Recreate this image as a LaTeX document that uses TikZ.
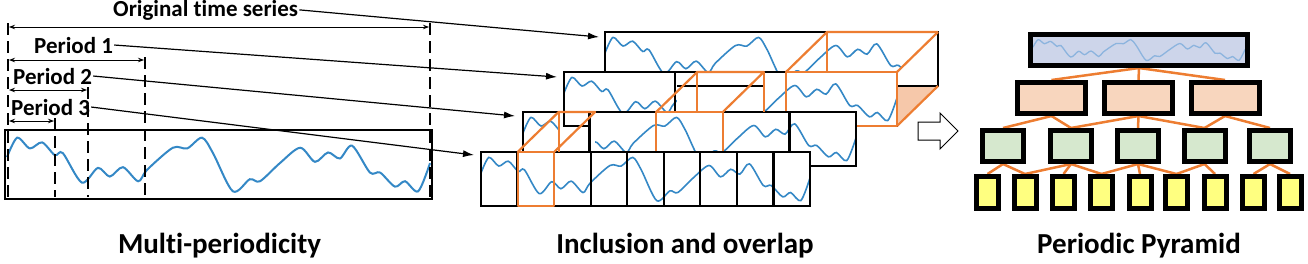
\documentclass[tikz,border=0pt]{standalone}
\usepackage{fontspec}
\setmainfont{Carlito}[Ligatures={NoCommon}]
\usetikzlibrary{arrows.meta}
\pgfdeclarelayer{background}
\pgfsetlayers{background,main}
\definecolor{wavec}{RGB}{52,136,198}
\definecolor{wavelight}{RGB}{140,180,222}
\definecolor{orng}{RGB}{237,125,49}
\definecolor{peach}{RGB}{246,200,170}
\definecolor{topc}{RGB}{205,213,234}
\definecolor{lvltwo}{RGB}{248,214,190}
\definecolor{lvlthree}{RGB}{214,232,206}
\definecolor{lvlfour}{RGB}{255,255,128}
\newcommand{\tswave}[1]{\draw[#1] plot[smooth,tension=0.5] coordinates {(0,0.39) (0.024,0.10) (0.054,0.26) (0.083,0.17) (0.113,0.36) (0.132,0.33) (0.177,0.77) (0.215,0.55) (0.243,0.68) (0.274,0.54) (0.310,0.75) (0.331,0.58) (0.392,0.25) (0.426,0.26) (0.461,0.10) (0.487,0.33) (0.534,0.90) (0.574,0.72) (0.598,0.75) (0.645,0.48) (0.693,0.25) (0.728,0.46) (0.759,0.32) (0.787,0.41) (0.816,0.22) (0.858,0.62) (0.882,0.62) (0.917,0.83) (0.941,0.75) (0.972,0.90) (1.0,0.48)};}
\newcommand{\tsbox}[4]{%
  \fill[white] (#1,#2) rectangle ++(#3,#4);
  \begin{scope}
    \clip (#1,#2) rectangle ++(#3,#4);
    \begin{scope}[shift={(#1,#2)},x=#3pt,y=-#4pt]
      \tswave{wavec,line width=1.6pt}
    \end{scope}
  \end{scope}
  \draw[boxline] (#1,#2) rectangle ++(#3,#4);
}
\tikzset{
  boxline/.style={line width=2.2pt,black},
  oline/.style={line width=2.2pt,orng,line join=round},
  dashline/.style={line width=2pt,dash pattern=on 12pt off 6pt},
  dimarrow/.style={line width=0.9pt,{Stealth[length=6pt,width=4.5pt]}-{Stealth[length=6pt,width=4.5pt]}},
  lblarrow/.style={line width=1.2pt,-{Latex[length=11pt,width=7pt]}},
  lbl/.style={font=\fontsize{23}{23}\selectfont\bfseries,inner sep=1pt},
  title/.style={font=\fontsize{29}{31}\selectfont\bfseries,inner sep=0pt},
  pbox/.style={draw=black,line width=5pt,inner sep=0pt},
  conn/.style={orng,line width=2.5pt}
}
\begin{document}
\begin{tikzpicture}[x=1pt,y=-1pt]
\useasboundingbox (0,0) rectangle (1308,263);

% ---------- left panel ----------
\fill[white] (5,130) rectangle (432,199);
\begin{scope}
  \clip (5,130) rectangle (432,199);
  \begin{scope}[shift={(7,131)},x=423pt,y=-67pt]
    \tswave{wavec,line width=2pt}
  \end{scope}
\end{scope}
\draw[line width=2.8pt] (5,130) rectangle (432,199);
\draw[dashline] (8,23) -- (8,197);
\draw[dashline] (430,23) -- (430,197);
\draw[dashline] (145,57) -- (145,197);
\draw[dashline] (88,87) -- (88,197);
\draw[dashline] (55,118) -- (55,197);
\coordinate (a0l) at (9,27);  \coordinate (a0r) at (429,27);
\coordinate (a1l) at (9,60);  \coordinate (a1r) at (144,60);
\coordinate (a2l) at (9,90);  \coordinate (a2r) at (87,90);
\coordinate (a3l) at (9,121); \coordinate (a3r) at (54,121);
\draw[dimarrow] (a0l) -- (a0r);
\draw[dimarrow] (a1l) -- (a1r);
\draw[dimarrow] (a2l) -- (a2r);
\draw[dimarrow] (a3l) -- (a3r);

% ---------- middle panel ----------
% layer 0
\tsbox{605}{32}{333}{54}
% layer 1
\tsbox{564}{72}{333}{54}
\foreach \k in {1,2} \draw[boxline] ({564+\k*111},72) -- ++(0,54);
% cuboid 1 -> 0
\fill[white] (897,72) -- (938,32) -- (938,86) -- (897,126) -- cycle;
\fill[peach] (897,86) -- (938,86) -- (897,126) -- cycle;
\draw[boxline] (897,86) -- (938,86);
\draw[boxline] (938,32) -- (938,86);
\draw[oline] (786,72) -- (827,32) -- (938,32);
\draw[oline] (897,72) -- (938,32);
\draw[oline] (827,32) -- (827,72);
\draw[oline] (897,126) -- (938,86);
\draw[oline] (786,72) rectangle (897,126);
% layer 2
\tsbox{523}{112}{333}{54}
\foreach \k in {1,...,4} \draw[boxline] ({523+\k*66.6},112) -- ++(0,54);
% cuboid 2 -> 1
\fill[white] (676.5,73) rectangle (763.8,111);
\draw[line width=2.5pt] (677,86) -- (763.8,86);
\draw[oline] (656.2,112) -- (697.2,72) -- (763.8,72) -- (722.8,112);
\draw[oline] (697.2,72) -- (697.2,112);
\draw[oline] (763.8,72) -- (763.8,112);
\draw[oline] (656.2,112) rectangle (722.8,166);
% layer 3
\tsbox{481}{152}{329}{54}
\foreach \k in {1,...,8} \draw[boxline] ({481+\k*36.56},152) -- ++(0,54);
% cuboid 3 -> 2
\fill[white] (558.6,113) rectangle (595.1,151);
\draw[boxline] (564,113) -- (564,126) -- (589.6,126);
\draw[line width=2.5pt] (589.6,112) -- (589.6,152);
\draw[oline] (517.6,152) -- (558.6,112) -- (595.1,112) -- (554.1,152);
\draw[oline] (558.6,112) -- (558.6,152);
\draw[oline] (517.6,152) rectangle (554.1,206);

% ---------- labels with arrows ----------
\node[lbl,anchor=base west] (orig) at (112,16) {Original time series};
\node[lbl,anchor=base west] (per1) at (33,53) {Period 1};
\node[lbl,anchor=base west] (per2) at (12,84) {Period 2};
\node[lbl,anchor=base west] (per3) at (10,115) {Period 3};
\coordinate (t0) at (599,37);
\coordinate (t1) at (557,77);
\coordinate (t2) at (515,116);
\coordinate (t3) at (474,155);
\draw[lblarrow] (orig.east) -- (t0);
\draw[lblarrow] (per1.east) -- (t1);
\draw[lblarrow] (per2.east) -- (t2);
\draw[lblarrow] (per3.east) -- (t3);

% ---------- hollow arrow ----------
\draw[line width=1pt,fill=white] (918,122) -- (940,122) -- (940,113) -- (958,131) -- (940,149) -- (940,140) -- (918,140) -- cycle;

% ---------- pyramid ----------
\node[pbox,fill=topc,minimum width=217pt,minimum height=31pt] (top) at (1139,50) {};
\begin{scope}
  \clip (1033,37) rectangle (1245,63);
  \begin{scope}[shift={(1033,37)},x=212pt,y=-26pt]
    \tswave{wavelight,line width=1.3pt}
  \end{scope}
\end{scope}
\draw[line width=5pt] (1030.5,34.5) rectangle (1247.5,65.5);
\foreach \n/\x in {1/1051.5,2/1138.5,3/1225}
  \node[pbox,fill=lvltwo,minimum width=68pt,minimum height=31pt] (a\n) at (\x,98) {};
\foreach \n/\x in {1/1003,2/1071,3/1138,4/1204.5,5/1270}
  \node[pbox,fill=lvlthree,minimum width=41pt,minimum height=31pt] (b\n) at (\x,146) {};
\foreach \n/\x in {1/987.5,2/1025,3/1063.5,4/1101.5,5/1140,6/1176.5,7/1215,8/1253.5,9/1290}
  \node[pbox,fill=lvlfour,minimum width=22pt,minimum height=32pt] (c\n) at (\x,192.5) {};
\begin{pgfonlayer}{background}
  \foreach \s/\t in {top/a1,top/a2,top/a3,a1/b1,a1/b2,a2/b2,a2/b3,a2/b4,a3/b4,a3/b5,b1/c1,b1/c2,b2/c2,b2/c3,b2/c4,b3/c4,b3/c5,b3/c6,b4/c6,b4/c7,b5/c8,b5/c9}
    \draw[conn] (\s.south) -- (\t.north);
\end{pgfonlayer}

% ---------- titles ----------
\node[title,anchor=base] (tl) at (219.5,253) {Multi-periodicity};
\node[title,anchor=base] (tm) at (685,253) {Inclusion and overlap};
\node[title,anchor=base] (tr) at (1139,253) {Periodic Pyramid};
\end{tikzpicture}
\end{document}
